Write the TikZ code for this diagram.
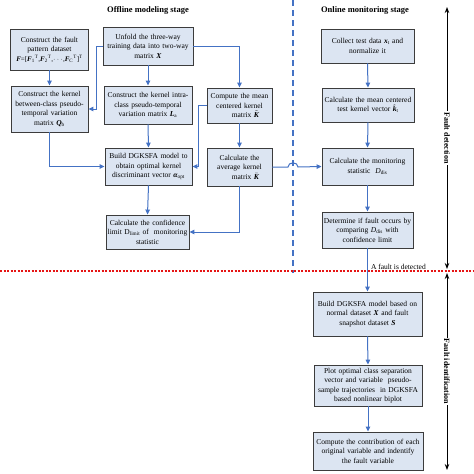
\documentclass[tikz,border=0pt]{standalone}
\usepackage{fontspec}
\setmainfont{Liberation Serif}
\usetikzlibrary{arrows.meta}
\definecolor{boxfill}{RGB}{220,229,242}
\definecolor{boxline}{RGB}{60,60,60}
\definecolor{flow}{RGB}{68,114,196}
\definecolor{sepred}{RGB}{230,20,20}
\newcommand{\bv}[1]{\textbf{\textit{#1}}}
\newcommand{\tsb}[2]{\textsubscript{#1}\textsuperscript{#2}}
\begin{document}
\begin{tikzpicture}[x=1pt,y=-1pt,
  pbox/.style={draw=boxline,fill=boxfill,line width=0.9pt,align=center,
    font=\fontsize{7.5}{9.5}\selectfont,inner xsep=1pt,inner ysep=1pt},
  flowline/.style={draw=flow,line width=1pt,-{Triangle[length=5pt,width=4.5pt]}},
  title/.style={font=\fontsize{8.5}{10}\selectfont\bfseries},
  side/.style={draw=black,line width=1pt,{Stealth[length=6pt,width=4.5pt]}-{Stealth[length=6pt,width=4.5pt]}},
  sidelabel/.style={font=\fontsize{8}{10}\selectfont\bfseries,rotate=-90,fill=white,inner sep=1pt}]
\useasboundingbox (0,0) rectangle (474,474);
\fill[white] (0,0) rectangle (474,474);

% titles
\node[title] (t1) at (148,10) {Offline modeling stage};
\node[title] (t2) at (365,10) {Online monitoring stage};

% separators
\coordinate (vtop) at (293,0);
\coordinate (vbot) at (293,273);
\draw[draw=flow,line width=1.2pt,dash pattern=on 6pt off 4pt] (vtop) -- (vbot);
\coordinate (hl) at (0,271);
\coordinate (hr) at (474,271);
\draw[draw=sepred,line width=1.3pt,dash pattern=on 2pt off 1.5pt] (hl) -- (hr);

% offline boxes
\node[pbox,text width=76pt,minimum height=41pt] (A) at (49.5,49.5)
  {Construct the fault\\ pattern dataset\\ {\fontsize{7}{9}\selectfont\bv{F}=[\bv{F}\tsb{1}{T},\bv{F}\tsb{2}{T},$\cdots$,\bv{F}\tsb{C}{T}]\textsuperscript{T}}};
\node[pbox,text width=88pt,minimum height=38pt] (B) at (148,46)
  {Unfold the three-way\\ training data into two-way\\ matrix \bv{X}};
\node[pbox,text width=75pt,minimum height=46pt] (C) at (49.5,109)
  {Construct the kernel\\ between-class pseudo-\\ temporal variation\\ matrix \bv{Q}\textsubscript{b}};
\node[pbox,text width=86pt,minimum height=38pt] (D) at (148,105)
  {Construct the kernel intra-\\ class pseudo-temporal\\ variation matrix \bv{L}\textsubscript{a}};
\node[pbox,text width=63pt,minimum height=35pt] (E) at (239.5,105.5)
  {Compute the mean\\ centered kernel\\ \hspace*{12pt}matrix $\tilde{\bv{K}}$};
\node[pbox,text width=63pt,minimum height=38pt] (F) at (239.5,167)
  {Calculate the\\ average kernel\\ \hspace*{12pt}matrix $\bar{\bv{K}}$};
\node[pbox,text width=85pt,minimum height=37pt] (G) at (148.5,166.5)
  {Build DGKSFA model to\\ obtain optimal kernel\\ discriminant vector \bv{α}\textsubscript{opt}};
\node[pbox,text width=81pt,minimum height=34pt] (H) at (147.5,232)
  {Calculate the confidence\\ limit D\textsubscript{limit} of~ monitoring\\ statistic};

% online boxes
\node[pbox,text width=91pt,minimum height=34pt] (I) at (367.5,46)
  {Collect test data \bv{x}\textsubscript{t} and\\ normalize it};
\node[pbox,text width=90pt,minimum height=34pt] (J) at (368,105)
  {Calculate the mean centered\\ test kernel vector $\hat{\bv{k}}$\textsubscript{t}};
\node[pbox,text width=89pt,minimum height=37pt] (K) at (367.5,166.5)
  {Calculate the monitoring\\ statistic~ \textit{D}\textsubscript{dis}};
\node[pbox,text width=89pt,minimum height=36pt] (L) at (367.5,230)
  {Determine if fault occurs by\\ comparing \textit{D}\textsubscript{dis} with\\ confidence limit};
\node[pbox,text width=107pt,minimum height=44pt] (M) at (367.5,314)
  {Build DGKSFA model based on\\ normal dataset \bv{X} and fault\\ snapshot dataset \bv{S}};
\node[pbox,text width=106pt,minimum height=41pt] (N) at (368,385.5)
  {Plot optimal class separation\\ vector and variable~ pseudo-\\ sample trajectories~ in DGKSFA\\ based nonlinear biplot};
\node[pbox,text width=108pt,minimum height=38pt] (O) at (368,451)
  {Compute the contribution of each\\ original variable and indentify\\ the fault variable};

% offline connectors
\draw[flowline] (A.south) -- (C.north);
\draw[flowline] (B.south) -- (D.north);
\draw[flowline] (B.west) -- ++(-6,0) |- (C.east);
\draw[flowline] (B.east) -| (E.north);
\draw[flowline] (C.south) |- (G.west);
\draw[flowline] (D.south) -- (G.north);
\draw[flowline] (E.west) -- ++(-8,0) |- (G.east);
\draw[flowline] (E.south) -- (F.north);
\draw[flowline] (F.south) |- (H.east);
\draw[flowline] (G.south) -- (H.north);
\coordinate (j1) at (288,167);
\coordinate (j2) at (298,167);
\draw[flowline] (F.east) -- (j1) .. controls (288,161.5) and (298,161.5) .. (j2) -- (K.west);

% online connectors
\draw[flowline] (I.south) -- (J.north);
\draw[flowline] (J.south) -- (K.north);
\draw[flowline] (K.south) -- (L.north);
\draw[flowline] (L.south) -- node[pos=0.42,right,font=\fontsize{7.5}{9}\selectfont,inner sep=3pt] (lab) {A fault is detected} (M.north);
\draw[flowline] (M.south) -- (N.north);
\draw[flowline] (N.south) -- (O.north);

% side arrows
\coordinate (d1) at (447,7);
\coordinate (d2) at (447,269);
\coordinate (f1) at (447,273);
\coordinate (f2) at (447,470);
\draw[side] (d1) -- node[sidelabel] (fd) {Fault detection} (d2);
\draw[side] (f1) -- node[sidelabel] (fi) {Fault identification} (f2);
\end{tikzpicture}
\end{document}
